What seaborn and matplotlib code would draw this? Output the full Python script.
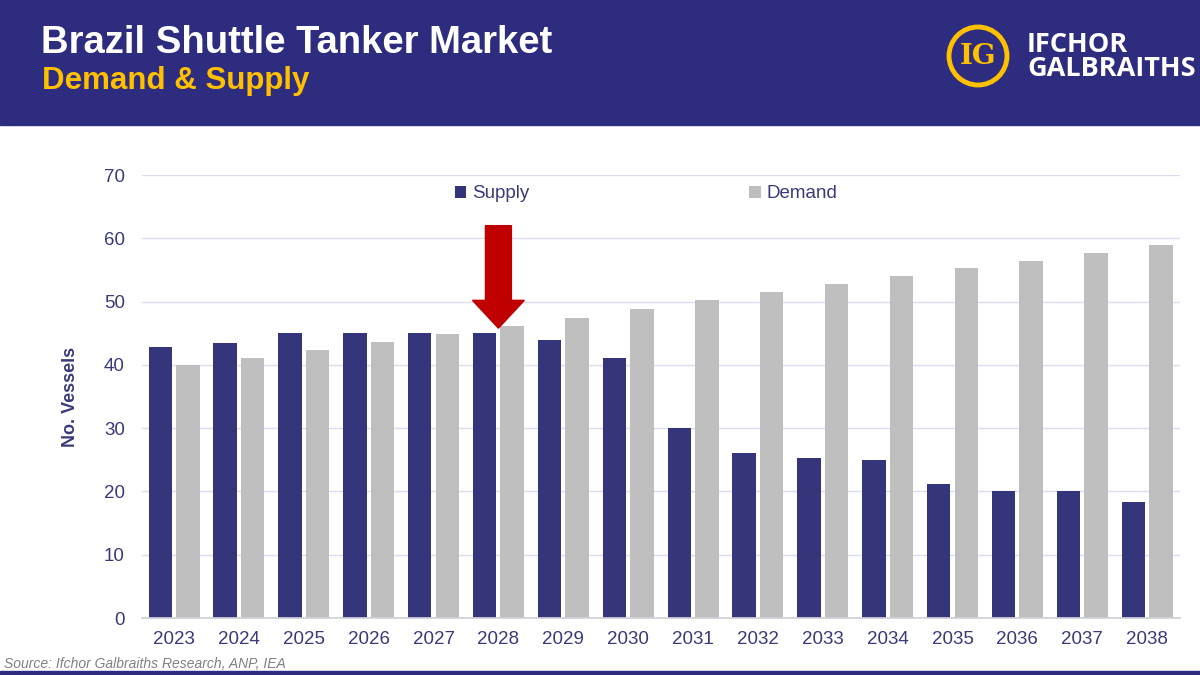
import numpy as np
import pandas as pd
import seaborn as sns
import matplotlib.pyplot as plt
from matplotlib.patches import Rectangle, Circle

# data
years = [str(y) for y in range(2023, 2039)]
supply = [42.8, 43.4, 45.0, 45.0, 45.0, 45.0, 43.9, 41.1, 30.0, 26.1, 25.3, 25.0, 21.2, 20.1, 20.1, 18.3]
demand = [40.0, 41.1, 42.3, 43.6, 44.9, 46.1, 47.4, 48.8, 50.2, 51.5, 52.8, 54.0, 55.3, 56.4, 57.7, 58.9]
y_ticks = [0, 10, 20, 30, 40, 50, 60, 70]
arrow_year = '2028'

navy = '#34357A'
grey = '#BFBFBF'
text_navy = '#3A3A7A'
header_col = '#2D2C7E'
gold = '#FFC000'

sns.set_theme(style='white')
plt.rcParams['font.family'] = ['Liberation Sans', 'DejaVu Sans']

df = pd.DataFrame({'Year': years * 2,
                   'Vessels': supply + demand,
                   'Series': ['Supply'] * len(years) + ['Demand'] * len(years)})

fig = plt.figure(figsize=(12, 6.75), dpi=100)
fig.patch.set_facecolor('white')

# overlay in pixel units for the header / footer / logo
bg = fig.add_axes([0, 0, 1, 1])
bg.set_xlim(0, 1200)
bg.set_ylim(675, 0)
bg.axis('off')
bg.add_patch(Rectangle((0, 0), 1200, 125, color=header_col, zorder=0))
bg.add_patch(Rectangle((0, 671), 1200, 4, color=header_col, zorder=0))
bg.text(41, 43, 'Brazil Shuttle Tanker Market', color='white', fontsize=27.5,
        fontweight='bold', va='center', ha='left')
bg.text(42, 81, 'Demand & Supply', color=gold, fontsize=22.5,
        fontweight='bold', va='center', ha='left')
bg.add_patch(Circle((978, 56), 29, fill=False, edgecolor=gold, linewidth=3.5))
bg.text(978, 57, 'IG', color=gold, fontsize=20, fontweight='bold',
        ha='center', va='center', family='DejaVu Serif')
bg.text(1027, 57, 'IFCHOR\nGALBRAITHS', color='white', fontsize=19.5, fontweight='bold',
        ha='left', va='center', family='Open Sans', linespacing=0.95)
bg.text(4, 664, 'Source: Ifchor Galbraiths Research, ANP, IEA', color='#808080',
        fontsize=10, style='italic', ha='left', va='center')

ax = fig.add_axes([0.118, 0.0844, 0.865, 0.6563])
sns.barplot(data=df, x='Year', y='Vessels', hue='Series',
            palette={'Supply': navy, 'Demand': grey}, saturation=1,
            width=0.85, gap=0.15, linewidth=0, ax=ax)

ax.set_ylim(0, 70)
ax.set_xlim(-0.5, len(years) - 0.5)
ax.set_yticks(y_ticks)
ax.grid(axis='y', color='#DCDCF2', linewidth=1)
ax.set_axisbelow(True)
for s in ['top', 'right', 'left']:
    ax.spines[s].set_visible(False)
ax.spines['bottom'].set_color('#D0D0D8')
ax.tick_params(axis='both', colors=text_navy, labelsize=13.5, length=0)
ax.tick_params(axis='y', pad=12)
ax.tick_params(axis='x', pad=9)
ax.set_xticks(np.arange(-0.5, len(years)), minor=True)
ax.tick_params(axis='x', which='minor', length=5, color='#D0D0D8', width=1)
ax.set_xlabel('')
ax.set_ylabel('No. Vessels', color=text_navy, fontsize=13, fontweight='bold', labelpad=18)

# red arrow above the 2028 bars
xi = years.index(arrow_year)
ax.arrow(xi, 62, 0, -16.2, width=0.4, head_width=0.8, head_length=4.4,
         length_includes_head=True, color='#C00000', zorder=5)

leg = ax.legend(loc='upper center', bbox_to_anchor=(0.486, 1.015), ncol=2, frameon=False,
                fontsize=13.5, handlelength=0.6, handleheight=0.6, handletextpad=0.3,
                columnspacing=11.75)
for t in leg.get_texts():
    t.set_color(text_navy)

fig.savefig('out.png', dpi=100)
